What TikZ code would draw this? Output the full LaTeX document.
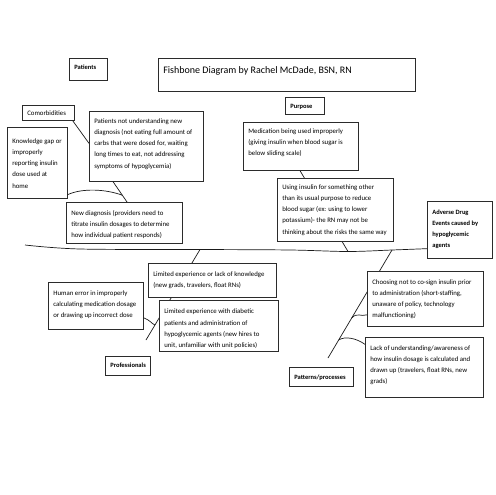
\documentclass[tikz,border=0pt]{standalone}
\usepackage{fontspec}
\setmainfont{Carlito}
\usetikzlibrary{backgrounds,calc}
\definecolor{ink}{HTML}{1A1A1A}
\definecolor{edge}{HTML}{2B2B2B}
\newcommand\tx{\fontsize{6.8}{11.2}\selectfont}
\newcommand\bd{\fontsize{6.5}{11}\selectfont\bfseries}
\newcommand\ttl{\fontsize{10}{12}\selectfont}
\newcommand\fbx[8]{\node[fbox] (#1) at (#2,#3) {\begin{minipage}[t][#5pt][t]{#4pt}#7\parindent0pt\leftskip5pt\rightskip0pt plus 1fil\rule{0pt}{#6pt}#8\par\end{minipage}};}
\tikzset{
  fbox/.style={draw=edge, line width=0.65pt, fill=white, inner sep=0pt, anchor=north west, text=black},
  bone/.style={draw=ink, line width=0.7pt}
}
\begin{document}
\begin{tikzpicture}[x=1pt,y=-1pt]
\useasboundingbox (0,0) rectangle (495,495);
% boxes
\fbx{pat}{69}{58}{38}{22}{11.5}{\bd}{Patients}
\fbx{title}{158}{58}{257}{33}{15}{\ttl}{Fishbone Diagram by Rachel McDade, BSN, RN}
\fbx{com}{22}{105}{52}{15}{10.5}{\tx}{Comorbidities}
\fbx{pnu}{89}{111}{114}{70}{12}{\tx}{Patients not understanding new\\diagnosis (not eating full amount of\\carbs that were dosed for, waiting\\long times to eat, not addressing\\symptoms of hypoglycemia)}
\fbx{kg}{7}{127}{60}{71}{16}{\tx}{Knowledge gap or\\improperly\\reporting insulin\\dose used at\\home}
\fbx{nd}{66}{202}{116}{41}{13}{\tx}{New diagnosis (providers need to\\titrate insulin dosages to determine\\how individual patient responds)}
\fbx{pur}{285}{97}{39}{17}{11}{\bd}{Purpose}
\fbx{med}{243}{122}{115}{48}{11}{\tx}{Medication being used improperly\\(giving insulin when blood sugar is\\below sliding scale)}
\fbx{ui}{277}{178}{116}{63}{11}{\tx}{Using insulin for something other\\than its usual purpose to reduce\\blood sugar (ex: using to lower\\potassium)- the RN may not be\\thinking about the risks the same way}
\fbx{adv}{427}{201}{65}{57}{13}{\bd}{Adverse Drug\\Events caused by\\hypoglycemic\\agents}
\fbx{le}{148}{263}{128}{34}{13}{\tx}{Limited experience or lack of knowledge\\(new grads, travelers, float RNs)}
\fbx{he}{48}{282}{95}{47}{13}{\tx}{Human error in improperly\\calculating medication dosage\\or drawing up incorrect dose}
\fbx{dia}{159}{300}{119}{51}{13.5}{\tx}{Limited experience with diabetic\\patients and administration of\\hypoglycemic agents (new hires to\\unit, unfamiliar with unit policies)}
\fbx{pro}{105}{356}{45}{19}{11.5}{\bd}{Professionals}
\fbx{ch}{367}{271}{116}{55}{13}{\tx}{Choosing not to co-sign insulin prior\\to administration (short-staffing,\\unaware of policy, technology\\malfunctioning)}
\fbx{lu}{365}{337}{118}{60}{13}{\tx}{Lack of understanding/awareness of\\how insulin dosage is calculated and\\drawn up (travelers, float RNs, new\\grads)}
\fbx{pp}{289}{367}{64}{19}{12}{\bd}{Patterns/processes}
% spine coordinates
\coordinate (tail) at (25,245);
\coordinate (sp1) at (80,249);
\coordinate (sp2) at (200,249.5);
\coordinate (sp3) at (290,250);
\coordinate (sp4) at (348,251.5);
\coordinate (sp5) at (392,250);
\coordinate (spend) at ([yshift=10pt]adv.south west);
\coordinate (blb) at (146,340);
\coordinate (brb) at (328,358);
\begin{pgfonlayer}{background}
\fill[white] (0,0) rectangle (495,495);
\draw[bone] plot[smooth, tension=0.55] coordinates {(tail) (sp1) (sp2) (sp3) (sp4) (sp5) (spend)};
\draw[bone] ([xshift=57pt]med.south west) -- (sp4);
\draw[bone] (sp2) -- (blb);
\draw[bone] (sp5) -- (brb);
\end{pgfonlayer}
% upper-left bones
\draw[bone] ([xshift=24pt]pnu.south west) -- coordinate[pos=0.67] (kgj) ([xshift=61pt]nd.north west);
\draw[bone] ([yshift=4pt]kg.south east) .. controls (82,188) and (106,189) .. (kgj);
\draw[bone] ([xshift=-2pt]com.south east) -- ([yshift=3pt]pnu.west);
% lower-left branch
\path (sp2) -- coordinate[pos=0.834] (hej) (blb);
\draw[bone] ([yshift=-12pt]he.east) .. controls (150,320) and (152,324) .. (hej);
% lower-right branches
\path (sp5) -- coordinate[pos=0.63] (chj) (brb);
\path (sp5) -- coordinate[pos=0.833] (luj) (brb);
\draw[bone] (chj) .. controls (357,312) and (361,317) .. ([yshift=-16pt]ch.west);
\draw[bone] (luj) .. controls (345,336) and (356,338) .. ([yshift=23pt]lu.west);
\end{tikzpicture}
\end{document}
